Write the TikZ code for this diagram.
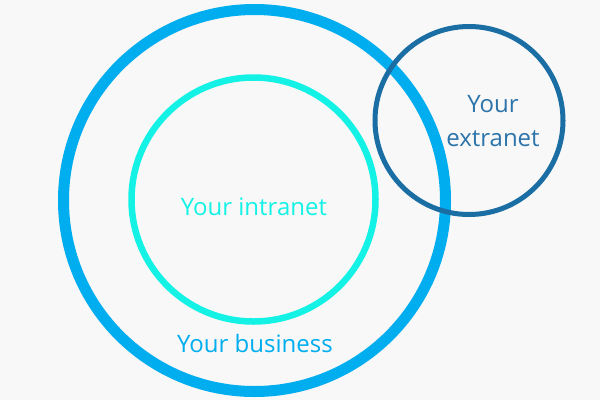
\documentclass[tikz,border=0pt]{standalone}
\usepackage{fontspec}
\setmainfont{Open Sans}
\definecolor{bgGrey}{HTML}{F8F8F8}
\definecolor{bizBlue}{HTML}{00ADEF}
\definecolor{intraCyan}{HTML}{14F2E6}
\definecolor{extraBlue}{HTML}{1A6EA3}
\definecolor{extraText}{HTML}{2C74AA}
\begin{document}
\begin{tikzpicture}[x=1pt,y=-1pt,
  every node/.style={inner sep=0pt},
  ring/.style={draw,circle,fill=none},
  label text/.style={font=\fontsize{24}{34}\selectfont,anchor=base}]
  \fill[bgGrey] (0,0) rectangle (600,400);
  \useasboundingbox (0,0) rectangle (600,400);
  % the three circles
  \node[ring,draw=bizBlue,line width=11pt,minimum size=382pt] (business) at (254.5,200.5) {};
  \node[ring,draw=intraCyan,line width=6.5pt,minimum size=244pt] (intranet) at (253.5,199.5) {};
  \node[ring,draw=extraBlue,line width=5pt,minimum size=188pt] (extranet) at (469,120.5) {};
  % labels
  \node[label text,text=intraCyan] (intranetText) at (254,215.7) {Your intranet};
  \node[label text,text=bizBlue] (businessText) at (255,352) {Your business};
  \node[label text,text=extraText,align=center] (extranetText) at (493,146) {Your\\extranet};
\end{tikzpicture}
\end{document}
